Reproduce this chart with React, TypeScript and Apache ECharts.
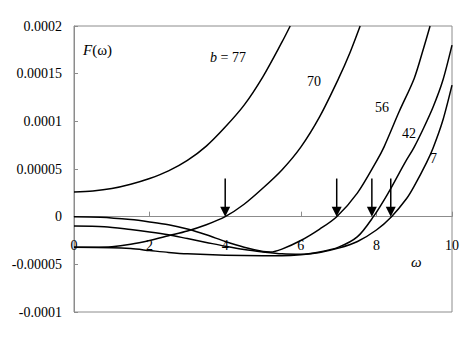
import React, { useEffect, useRef } from "react";
import * as echarts from "echarts";

const xTickLabels = ["0", "2", "4", "6", "8", "10"];
const yTickLabels = ["-0.0001", "-0.00005", "0", "0.00005", "0.0001", "0.00015", "0.0002"];

// b = 77
const w77 = [0, 0.5, 1, 1.5, 2, 2.5, 3, 3.5, 4, 4.5, 5, 5.5, 5.72];
const f77 = [26e-6, 27e-6, 29.5e-6, 34e-6, 40e-6, 48e-6, 59e-6, 74e-6, 94e-6, 117e-6, 147e-6, 183e-6, 200e-6];
// b = 70
const w70 = [0, 0.5, 1, 1.5, 2, 2.5, 3, 3.5, 4, 4.5, 5, 5.5, 6, 6.5, 7, 7.3, 7.57];
const f70 = [-32e-6, -32e-6, -31.5e-6, -29e-6, -25e-6, -20e-6, -15e-6, -8.5e-6, 0, 13e-6, 30e-6, 49e-6, 73e-6, 105e-6, 145e-6, 172e-6, 200e-6];
// b = 56
const w56 = [0, 0.7, 1.5, 2, 2.5, 3, 3.5, 4, 4.5, 5, 5.2, 5.5, 6, 6.5, 6.95, 7.5, 8, 8.2, 8.6, 9, 9.25, 9.42];
const f56 = [0, -0.5e-6, -3e-6, -5.5e-6, -8.5e-6, -13e-6, -19e-6, -26e-6, -32e-6, -36.5e-6, -37e-6, -34e-6, -25e-6, -13e-6, 0, 25e-6, 58e-6, 73e-6, 110e-6, 145e-6, 177e-6, 200e-6];
// b = 42
const w42 = [0, 0.8, 1.5, 2, 2.5, 3, 3.5, 4, 4.5, 5, 5.5, 6, 6.5, 7, 7.5, 7.92, 8.3, 8.76, 9, 9.25, 9.5, 9.75, 10];
const f42 = [-9.8e-6, -10.5e-6, -13.5e-6, -16e-6, -19e-6, -23e-6, -27e-6, -31e-6, -34.5e-6, -37e-6, -39e-6, -39.5e-6, -37e-6, -32e-6, -21e-6, 0, 24e-6, 57e-6, 73e-6, 93e-6, 115e-6, 142e-6, 180e-6];
// b = 7
const w7 = [0, 1, 1.5, 2, 2.5, 3, 4, 5, 5.5, 6, 6.5, 7, 7.5, 8, 8.4, 8.8, 9, 9.33, 9.5, 9.75, 10];
const f7 = [-32e-6, -32.5e-6, -33.5e-6, -35.5e-6, -37.5e-6, -39e-6, -40.5e-6, -41e-6, -41e-6, -40e-6, -37.5e-6, -33e-6, -26e-6, -14e-6, 0, 19e-6, 32e-6, 57e-6, 72e-6, 100e-6, 138e-6];

// roots marked with arrows
const arrowOmegas = [4.0, 6.95, 7.88, 8.38];
const arrowTop = 40e-6;

const curves = [
  { name: "77", w: w77, f: f77 },
  { name: "70", w: w70, f: f70 },
  { name: "56", w: w56, f: f56 },
  { name: "42", w: w42, f: f42 },
  { name: "7", w: w7, f: f7 },
];

const SERIF = "Times New Roman, Liberation Serif, serif";
const GRAY = "#8c8c8c";

export default function App() {
  const ref = useRef<HTMLDivElement>(null);
  useEffect(() => {
    if (!ref.current) return;
    const chart = echarts.init(ref.current, null, { renderer: "svg" });
    const lineSeries = curves.map((c) => ({
      type: "line",
      name: c.name,
      data: c.w.map((x, i) => [x, c.f[i]]),
      showSymbol: false,
      smooth: 0.3,
      clip: true,
      lineStyle: { color: "#000", width: 1.5 },
      z: 3,
    }));
    const textStyleBase = { fontFamily: SERIF, fontSize: 14, fill: "#000" };
    chart.setOption({
      animation: false,
      backgroundColor: "#fff",
      textStyle: { fontFamily: SERIF },
      grid: {
        left: 74,
        top: 26,
        width: 378,
        height: 286,
        containLabel: false,
        outerBoundsMode: "none",
        show: true,
        borderColor: GRAY,
        borderWidth: 1,
        backgroundColor: "transparent",
      },
      xAxis: {
        type: "value",
        min: 0,
        max: 10,
        interval: 2,
        offset: -95.33,
        axisLine: { onZero: false, lineStyle: { color: GRAY, width: 1 } },
        axisTick: { show: true, inside: true, length: 5, lineStyle: { color: GRAY } },
        axisLabel: {
          margin: 22,
          color: "#000",
          fontFamily: SERIF,
          fontSize: 14,
          formatter: (v: number) => xTickLabels[Math.round(v / 2)] ?? "",
        },
        splitLine: { show: false },
      },
      yAxis: {
        type: "value",
        min: -0.0001,
        max: 0.0002,
        interval: 0.00005,
        axisLine: { show: true, lineStyle: { color: GRAY, width: 1 } },
        axisTick: { show: true, inside: true, length: 4, lineStyle: { color: GRAY } },
        axisLabel: {
          margin: 12,
          color: "#000",
          fontFamily: SERIF,
          fontSize: 14,
          formatter: (v: number) => yTickLabels[Math.round((v + 0.0001) / 0.00005)] ?? "",
        },
        splitLine: { show: false },
      },
      series: [
        ...lineSeries,
        {
          type: "custom",
          data: arrowOmegas.map((w) => [w, arrowTop]),
          z: 4,
          renderItem: (params: any, api: any) => {
            const top = api.coord([api.value(0), api.value(1)]);
            const bot = api.coord([api.value(0), 0]);
            const h = 10;
            const hw = 5;
            return {
              type: "group",
              children: [
                {
                  type: "line",
                  shape: { x1: top[0], y1: top[1], x2: bot[0], y2: bot[1] - h + 1 },
                  style: { stroke: "#000", lineWidth: 1.5 },
                },
                {
                  type: "polygon",
                  shape: {
                    points: [
                      [bot[0] - hw, bot[1] - h],
                      [bot[0] + hw, bot[1] - h],
                      [bot[0], bot[1]],
                    ],
                  },
                  style: { fill: "#000" },
                },
              ],
            };
          },
        },
      ],
      graphic: [
        {
          type: "text",
          left: 83,
          top: 42,
          style: {
            ...textStyleBase,
            fontSize: 15,
            text: "{i|F}(\u03c9)",
            rich: { i: { fontStyle: "italic", fontFamily: SERIF, fontSize: 15 } },
          },
        },
        {
          type: "text",
          left: 210,
          top: 50,
          style: {
            ...textStyleBase,
            text: "{i|b} = 77",
            rich: { i: { fontStyle: "italic", fontFamily: SERIF, fontSize: 14 } },
          },
        },
        { type: "text", left: 307, top: 74, style: { ...textStyleBase, text: "70" } },
        { type: "text", left: 375, top: 100, style: { ...textStyleBase, text: "56" } },
        { type: "text", left: 402, top: 126, style: { ...textStyleBase, text: "42" } },
        { type: "text", left: 430, top: 151, style: { ...textStyleBase, text: "7" } },
        {
          type: "text",
          left: 411,
          top: 254,
          style: { ...textStyleBase, fontSize: 15, fontStyle: "italic", text: "\u03c9" },
        },
      ],
    });
    return () => chart.dispose();
  }, []);
  return (
    <div
      ref={ref}
      style={{ position: "fixed", left: 0, top: 0, width: 474, height: 340, background: "#fff" }}
    />
  );
}
